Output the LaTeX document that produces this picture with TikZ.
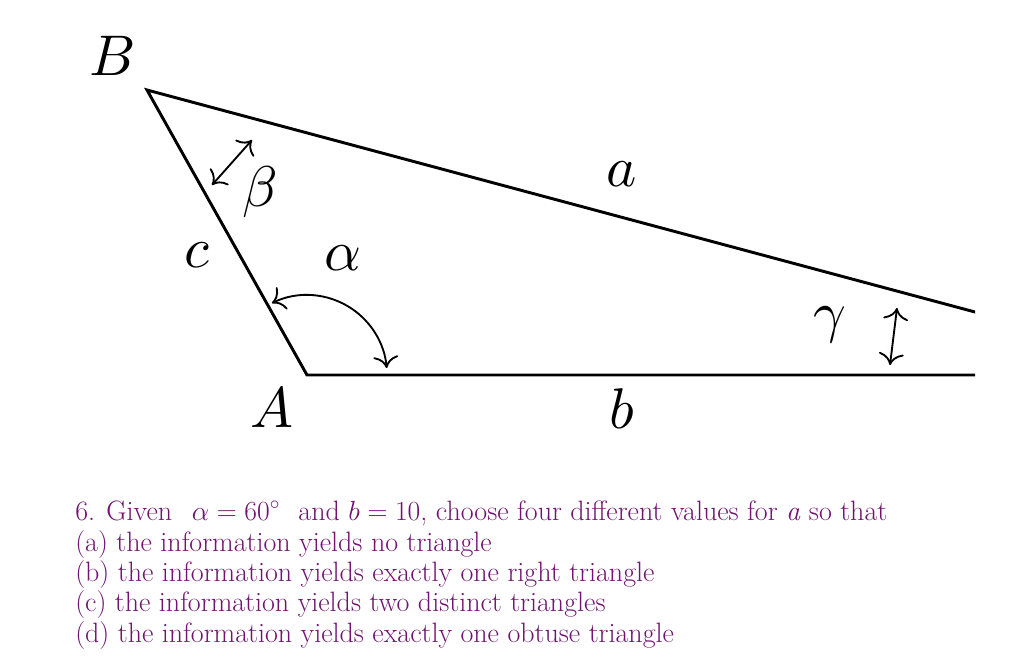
\documentclass[tikz,border=0pt]{standalone}
\usetikzlibrary{arrows.meta,positioning}
\definecolor{qpurple}{RGB}{112,20,112}
\newcommand{\biglab}[1]{\scalebox{4.3}{$#1$}}

\begin{document}
\begin{tikzpicture}[x=0.75pt,y=-0.75pt,>={To[scale=1.9]},
  side/.style={line width=2.2pt},
  angarr/.style={<->,line width=1.4pt},
  lab/.style={inner sep=0pt},
  qline/.style={anchor=base west, inner sep=0pt, text=qpurple,
    font=\fontsize{21}{24}\selectfont}]
\useasboundingbox (0,0) rectangle (1026,661);
% vertices (C lies off the page)
\coordinate (A) at (307,375);
\coordinate (B) at (147,90);
\coordinate (C) at (1210,375);
\begin{scope}
  \clip (0,0) rectangle (975,661);
  \draw[side] (A) -- (B) -- (C) -- cycle;
\end{scope}
% angle marks
\coordinate (beta1) at (212,185);
\coordinate (beta2) at (252,140);
\coordinate (gam1) at (890,365);
\coordinate (gam2) at (897,308);
\draw[angarr] (beta1) -- (beta2);
\draw[angarr] ([shift={(-116:80)}]A) arc (-116:-5:80);
\draw[angarr] (gam1) -- (gam2);
% labels
\node[lab] (lB) at (113,56) {\biglab{B}};
\node[lab] (lA) at (272,408) {\biglab{A}};
\node[lab] (la) at (622,174) {\biglab{a}};
\node[lab] (lb) at (622,409) {\biglab{b}};
\node[lab] (lc) at (197,255) {\biglab{c}};
\node[lab] (lalpha) at (343,258) {\biglab{\alpha}};
\node[lab] (lbeta) at (260,192) {\biglab{\beta}};
\node[lab] (lgamma) at (830,325) {\biglab{\gamma}};
% question
\node[qline] (q6) at (75,520)
  {6. Given\hspace{0.7em}$\alpha = 60^\circ$\hspace{0.35em} and $b = 10$, choose four different values for \textit{a} so that};
\node[qline] (q6a) at (75,551) {(a) the information yields no triangle};
\node[qline] (q6b) at (75,581) {(b) the information yields exactly one right triangle};
\node[qline] (q6c) at (75,611) {(c) the information yields two distinct triangles};
\node[qline] (q6d) at (75,642) {(d) the information yields exactly one obtuse triangle};
\end{tikzpicture}
\end{document}
